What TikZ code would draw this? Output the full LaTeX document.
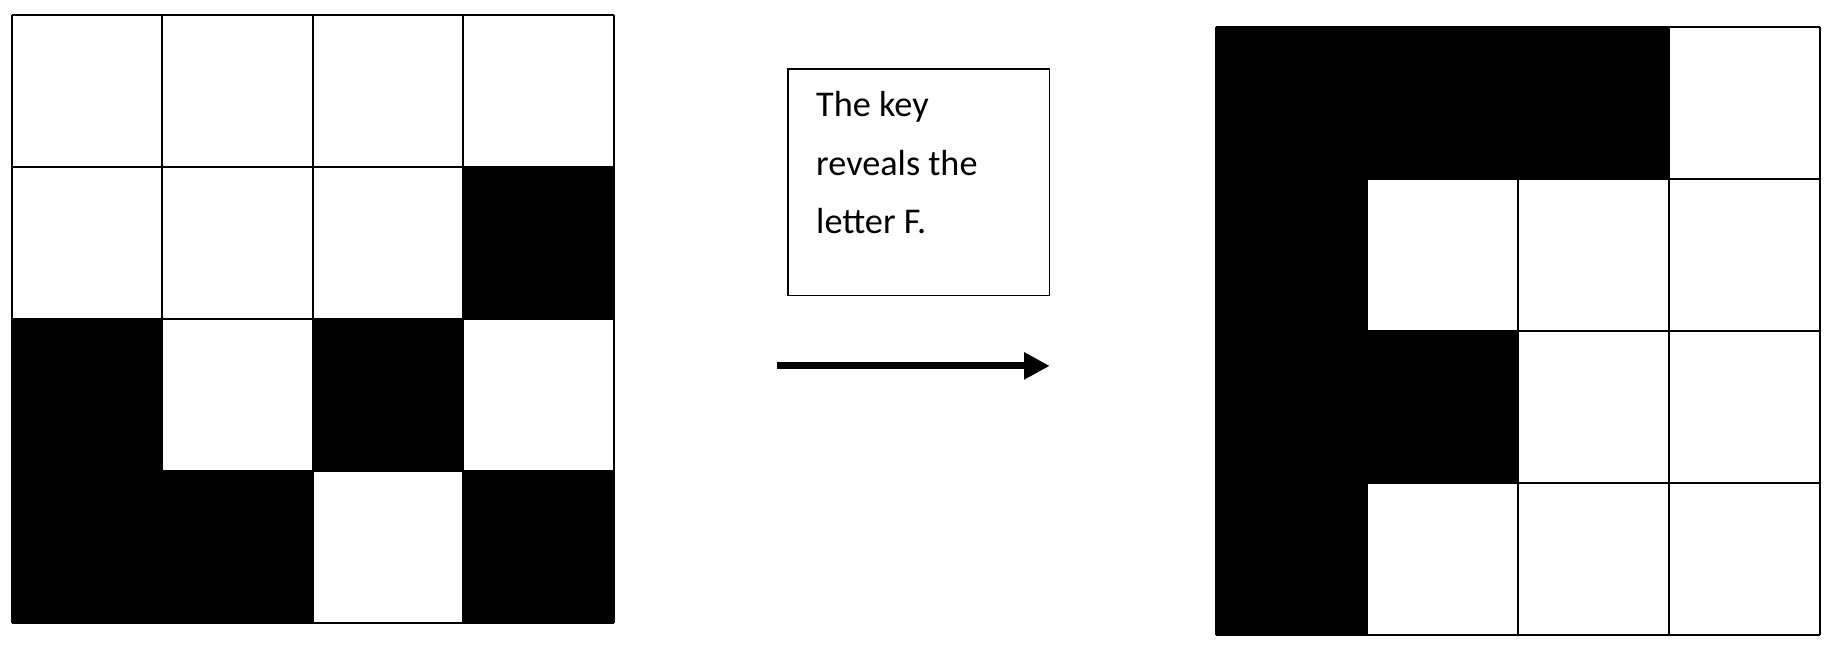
\documentclass[tikz,border=0pt]{standalone}
\usepackage{fontspec}
\setmainfont{Carlito}
\usetikzlibrary{arrows.meta}
\begin{document}
\begin{tikzpicture}[x=1pt,y=-1pt,
  cell/.style={draw=black,line width=1.5pt},
  blk/.style={cell,fill=black}]
\useasboundingbox (0,0) rectangle (1568,556);
% left grid
\foreach \c/\r/\f in {1/1/0,2/1/0,3/1/0,4/1/0,1/2/0,2/2/0,3/2/0,4/2/1,1/3/1,2/3/0,3/3/1,4/3/0,1/4/1,2/4/1,3/4/0,4/4/1}{
  \ifnum\f=1
    \fill[black] ({10+(\c-1)*128.75},{13+(\r-1)*130}) rectangle ++(128.75,130);
  \fi}
\foreach \i in {0,...,4}{
  \draw[line width=1.5pt] ({10+\i*128.75},13) -- ({10+\i*128.75},533);
  \draw[line width=1.5pt] (10,{13+\i*130}) -- (525,{13+\i*130});}
% right grid
\foreach \c/\r/\f in {1/1/1,2/1/1,3/1/1,1/2/1,1/3/1,2/3/1,1/4/1}{
    \fill[black] ({1040+(\c-1)*129.25},{23+(\r-1)*130}) rectangle ++(129.25,130);}
\foreach \i in {0,...,4}{
  \draw[line width=1.5pt] ({1040+\i*129.25},23) -- ({1040+\i*129.25},543);
  \draw[line width=1.5pt] (1040,{23+\i*130}) -- (1557,{23+\i*130});}
% text box
\node[draw,line width=1.5pt,minimum width=224pt,minimum height=194pt,anchor=north west,inner sep=0pt] (box) at (673,58) {};
\node[anchor=north west,align=left,font=\fontsize{31}{50}\selectfont,inner sep=0pt] (txt) at (698,78) {The key\\reveals the\\letter F.};
\coordinate (a1) at (665,313);
\coordinate (a2) at (898,313);
\draw[line width=6pt,-{Triangle[length=22pt,width=22pt]}] (a1) -- (a2);
\end{tikzpicture}
\end{document}
